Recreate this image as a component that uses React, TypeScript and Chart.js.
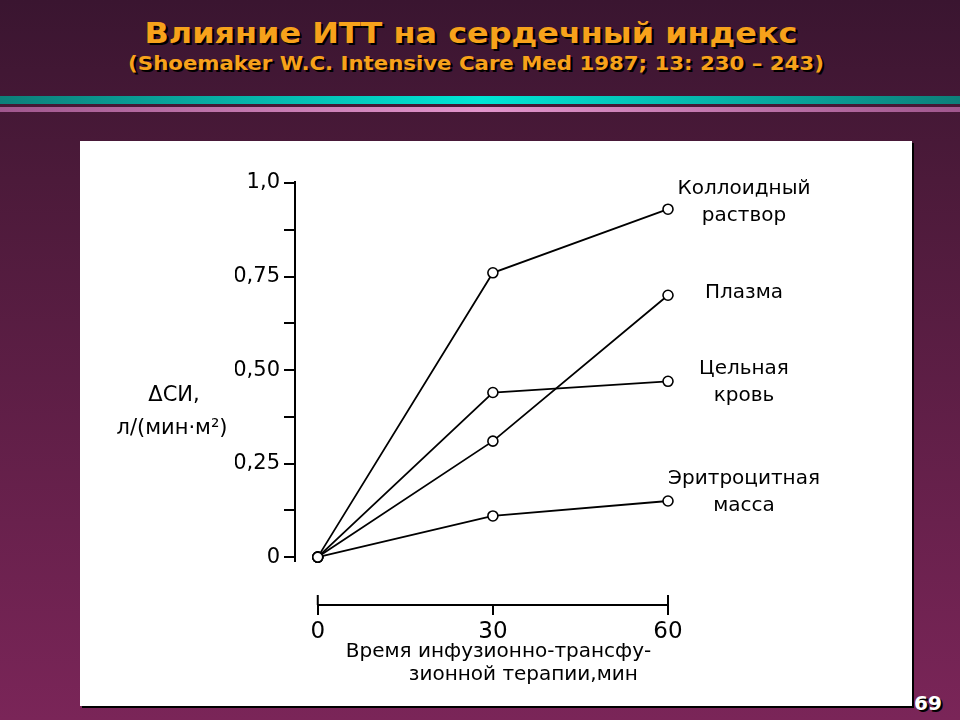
import { useEffect, useRef } from "react";
import Chart from "chart.js/auto";

// время терапии, мин
const minutes = [0, 30, 60];
// прирост сердечного индекса, л/(мин·м²)
const colloid = [0, 0.76, 0.93];
const plasma = [0, 0.31, 0.7];
const wholeBlood = [0, 0.44, 0.47];
const redCells = [0, 0.11, 0.15];

const seriesNames = [
  ["Коллоидный", "раствор"],
  ["Плазма"],
  ["Цельная", "кровь"],
  ["Эритроцитная", "масса"],
];

const yTicks = [0, 0.125, 0.25, 0.375, 0.5, 0.625, 0.75, 0.875, 1];
const yTickLabels = ["0", "", "0,25", "", "0,50", "", "0,75", "", "1,0"];
const xTicks = [0, 30, 60];
const xTickLabels = ["0", "30", "60"];

const yTitle = ["ΔСИ,", "л/(мин·м²)"];
const xTitle = ["Время инфузионно-трансфу-", "зионной терапии,мин"];

// label placement relative to the last point of each series
const labelDy = [-7, -2, 1, -9];

const series = [colloid, plasma, wholeBlood, redCells];

const decor = {
  id: "decor",
  afterDraw(chart: any) {
    const { ctx } = chart;
    const x = chart.scales.x;
    const y = chart.scales.y;
    ctx.save();
    ctx.strokeStyle = "#000";
    ctx.lineWidth = 2;

    // detached y axis line
    ctx.beginPath();
    ctx.moveTo(x.left, y.getPixelForValue(1) - 2);
    ctx.lineTo(x.left, y.getPixelForValue(0) + 5);
    ctx.stroke();

    // detached x axis line, 0..60
    const by = y.bottom;
    const x0 = x.getPixelForValue(xTicks[0]);
    const x1 = x.getPixelForValue(xTicks[xTicks.length - 1]);
    ctx.beginPath();
    ctx.moveTo(x0, by);
    ctx.lineTo(x1, by);
    ctx.moveTo(x0, by - 10);
    ctx.lineTo(x0, by);
    ctx.moveTo(x1, by - 10);
    ctx.lineTo(x1, by);
    ctx.stroke();

    ctx.fillStyle = "#000";
    ctx.textBaseline = "middle";

    // series labels
    ctx.textAlign = "center";
    ctx.font = "20px 'DejaVu Sans'";
    seriesNames.forEach((lines, i) => {
      const data = series[i];
      const px = x.getPixelForValue(minutes[minutes.length - 1]) + 76;
      const py = y.getPixelForValue(data[data.length - 1]) + labelDy[i];
      const start = py - ((lines.length - 1) * 27) / 2;
      lines.forEach((t, j) => ctx.fillText(t, px, start + j * 27));
    });

    // y title
    ctx.font = "21px 'DejaVu Sans'";
    const y0 = y.getPixelForValue(0);
    ctx.fillText(yTitle[0], x.left - 121, y0 - 162);
    ctx.fillText(yTitle[1], x.left - 123, y0 - 129);

    // x title
    ctx.textAlign = "left";
    ctx.font = "20px 'DejaVu Sans'";
    ctx.fillText(xTitle[0], x0 + 28, by + 47);
    ctx.fillText(xTitle[1], x0 + 91, by + 70);
    ctx.restore();
  },
};

const CardiacChart = () => {
  const chartRef = useRef<HTMLCanvasElement>(null);

  useEffect(() => {
    const ctx = chartRef.current?.getContext("2d");
    if (!ctx) return;

    const chart = new Chart(ctx, {
      type: "line",
      data: {
        datasets: series.map((values, i) => ({
          label: seriesNames[i].join(" "),
          data: minutes.map((m, k) => ({ x: m, y: values[k] })),
          borderColor: "#000",
          borderWidth: 1.8,
          pointRadius: 5,
          pointBorderWidth: 1.6,
          pointBorderColor: "#000",
          pointBackgroundColor: "#fff",
          tension: 0,
          clip: false,
        })),
      },
      options: {
        animation: false,
        responsive: false,
        maintainAspectRatio: false,
        layout: { padding: { left: 155, top: 42, right: 244, bottom: 61 } },
        plugins: {
          legend: { display: false },
          tooltip: { enabled: false },
        },
        scales: {
          x: {
            type: "linear",
            min: -3.9,
            max: 60,
            afterBuildTicks: (s: any) => {
              s.ticks = xTicks.map((v) => ({ value: v }));
            },
            afterFit: (s: any) => {
              s.height = 40;
            },
            border: { display: false },
            grid: {
              drawOnChartArea: false,
              color: "#000",
              lineWidth: 2,
              tickLength: 10,
            },
            ticks: {
              autoSkip: false,
              maxRotation: 0,
              color: "#000",
              padding: 3,
              font: { family: "DejaVu Sans", size: 23 },
              callback: (_v: any, i: number) => xTickLabels[i],
            },
          },
          y: {
            min: -0.128,
            max: 1,
            afterBuildTicks: (s: any) => {
              s.ticks = yTicks.map((v) => ({ value: v }));
            },
            afterFit: (s: any) => {
              s.width = 60;
            },
            border: { display: false },
            grid: {
              drawOnChartArea: false,
              color: "#000",
              lineWidth: 2,
              tickLength: 11,
            },
            ticks: {
              autoSkip: false,
              color: "#000",
              padding: 4,
              font: { family: "DejaVu Sans", size: 21 },
              callback: (_v: any, i: number) => yTickLabels[i],
            },
          },
        },
      },
      plugins: [decor],
    });

    return () => {
      chart.destroy();
    };
  }, []);

  return <canvas ref={chartRef} width={832} height={565} />;
};

const App = () => {
  const shadow = "2px 2px 0 #000";
  return (
    <div
      style={{
        position: "fixed",
        left: 0,
        top: 0,
        width: 960,
        height: 720,
        overflow: "hidden",
        background: "linear-gradient(#3a1530 0%, #4c1a3a 25%, #7a2558 100%)",
        fontFamily: "'DejaVu Sans', sans-serif",
      }}
    >
      <div
        style={{
          position: "absolute",
          top: 15,
          left: 0,
          width: 942,
          textAlign: "center",
          color: "#f7a21b",
          fontWeight: "bold",
          fontSize: 29,
          lineHeight: "36px",
          textShadow: shadow,
          transform: "scaleX(1.1)",
          transformOrigin: "471px 0",
        }}
      >
        Влияние ИТТ на сердечный индекс
      </div>
      <div
        style={{
          position: "absolute",
          top: 51,
          left: 0,
          width: 952,
          textAlign: "center",
          color: "#f7a21b",
          fontWeight: "bold",
          fontSize: 20,
          lineHeight: "24px",
          textShadow: shadow,
          transform: "scaleX(1.063)",
          transformOrigin: "476px 0",
        }}
      >
        (Shoemaker W.C. Intensive Care Med 1987; 13: 230 – 243)
      </div>
      <div
        style={{
          position: "absolute",
          top: 96,
          left: 0,
          width: 960,
          height: 8,
          background: "linear-gradient(to right, #0d7f7a, #00e6d6 50%, #0d7f7a)",
        }}
      />
      <div
        style={{
          position: "absolute",
          top: 107,
          left: 0,
          width: 960,
          height: 5,
          background: "linear-gradient(to right, #a0578e, #e295cc 50%, #a0578e)",
        }}
      />
      <div
        style={{
          position: "absolute",
          left: 80,
          top: 141,
          width: 832,
          height: 565,
          background: "#fff",
          boxShadow: "2px 2px 0 #000",
        }}
      >
        <CardiacChart />
      </div>
      <div
        style={{
          position: "absolute",
          left: 914,
          top: 691,
          color: "#fff",
          fontWeight: "bold",
          fontSize: 20,
          lineHeight: "24px",
          textShadow: shadow,
        }}
      >
        69
      </div>
    </div>
  );
};

export default App;
